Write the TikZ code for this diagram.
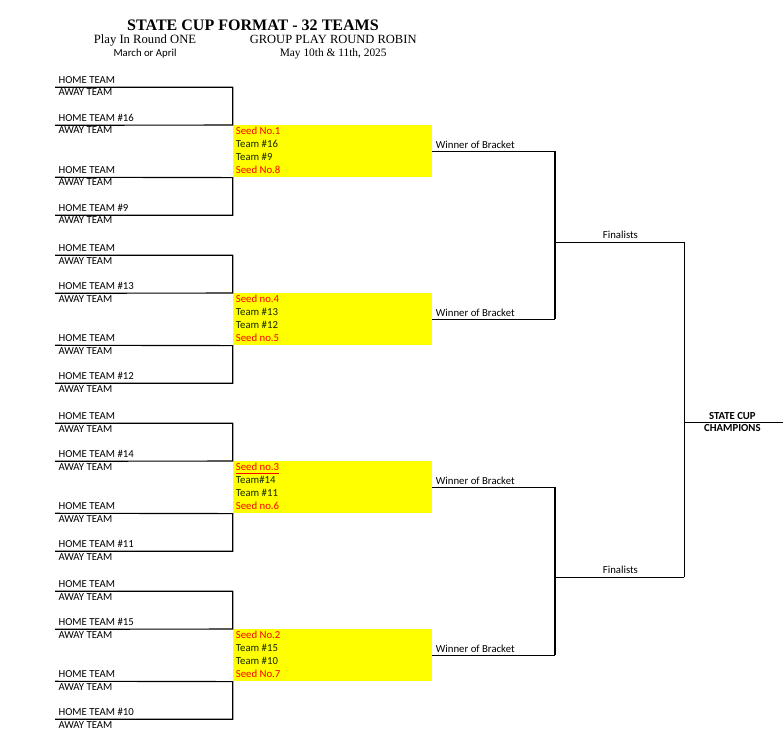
\documentclass[tikz,border=0pt]{standalone}
\usepackage{fontspec}
\setmainfont{Carlito}
\newfontfamily\headfont{Liberation Serif}
\definecolor{seedred}{RGB}{255,0,0}
\definecolor{teamgreen}{RGB}{20,40,0}
\definecolor{seedyellow}{RGB}{255,255,0}

\begin{document}
\begin{tikzpicture}[
		txt/.style={inner sep=0pt, anchor=base west, font=\fontsize{7.65}{9}\selectfont},
		seedtxt/.style={txt, text=seedred},
		teamtxt/.style={txt, text=teamgreen},
		champtxt/.style={inner sep=0pt, anchor=base, font=\bfseries\fontsize{7.65}{9}\selectfont},
		seedbox/.style={fill=seedyellow, draw=none, minimum width=4.975cm, minimum height=1.3cm, inner sep=0pt},
		bracket/.style={line width=0.8pt}]

	\useasboundingbox (0,0) rectangle (19.575,-18.425);

	% ===== nagłówek =====
	\node[font=\headfont\bfseries\fontsize{11.4}{13}\selectfont, anchor=base] (title) at (6.325,-0.775) {STATE CUP FORMAT - 32 TEAMS};
	\node[font=\headfont\fontsize{9}{11}\selectfont, anchor=base] (round) at (3.625,-1.1) {Play In Round ONE};
	\node[font=\fontsize{7.65}{9}\selectfont, anchor=base] (rounddate) at (3.625,-1.417) {March or April};
	\node[font=\headfont\fontsize{8.9}{11}\selectfont, anchor=base] (group) at (8.33,-1.1) {GROUP PLAY ROUND ROBIN};
	\node[font=\headfont\fontsize{8.1}{10}\selectfont, anchor=base] (groupdate) at (8.33,-1.417) {May 10th \& 11th, 2025};

	% ===== grupa A (1 / 8) =====
	\begin{scope}[yshift=-2.1825cm]
		\node[seedbox] (Abox) at (8.3125,-1.6) {};
		\node[txt] (Ah1) at (1.458,0.1) {HOME TEAM};
		\node[txt] (Aa1) at (1.458,-0.2175) {AWAY TEAM};
		\node[txt] (Ah2) at (1.458,-0.85) {HOME TEAM \#16};
		\node[txt] (Aa2) at (1.458,-1.1675) {AWAY TEAM};
		\node[txt] (Ah3) at (1.458,-2.15) {HOME TEAM};
		\node[txt] (Aa3) at (1.458,-2.4675) {AWAY TEAM};
		\node[txt] (Ah4) at (1.458,-3.1) {HOME TEAM \#9};
		\node[txt] (Aa4) at (1.458,-3.4175) {AWAY TEAM};
		\coordinate (A1) at (1.375,0);     \coordinate (A2) at (1.375,-0.95);
		\coordinate (A3) at (1.375,-2.25); \coordinate (A4) at (1.375,-3.2);
		\draw[bracket] (A1) -| (Abox.north west) -- (A2);
		\draw[bracket] (A4) -| (Abox.south west) -- (A3);
		\node[seedtxt] (As1) at (5.89,-1.19) {Seed No.1};
		\node[teamtxt] (At1) at (5.89,-1.515) {Team \#16};
		\node[teamtxt] (At2) at (5.89,-1.84) {Team \#9};
		\node[seedtxt] (As2) at (5.89,-2.165) {Seed No.8};
		\coordinate (Aw) at (13.875,-1.6);
		\draw[bracket] (Abox.east) -- (Aw);
		\node[txt] (Awin) at (10.89,-1.525) {Winner of Bracket};
	\end{scope}

	% ===== grupa B (4 / 5) =====
	\begin{scope}[yshift=-6.3825cm]
		\node[seedbox] (Bbox) at (8.3125,-1.6) {};
		\node[txt] (Bh1) at (1.458,0.1) {HOME TEAM};
		\node[txt] (Ba1) at (1.458,-0.2175) {AWAY TEAM};
		\node[txt] (Bh2) at (1.458,-0.85) {HOME TEAM \#13};
		\node[txt] (Ba2) at (1.458,-1.1675) {AWAY TEAM};
		\node[txt] (Bh3) at (1.458,-2.15) {HOME TEAM};
		\node[txt] (Ba3) at (1.458,-2.4675) {AWAY TEAM};
		\node[txt] (Bh4) at (1.458,-3.1) {HOME TEAM \#12};
		\node[txt] (Ba4) at (1.458,-3.4175) {AWAY TEAM};
		\coordinate (B1) at (1.375,0);     \coordinate (B2) at (1.375,-0.95);
		\coordinate (B3) at (1.375,-2.25); \coordinate (B4) at (1.375,-3.2);
		\draw[bracket] (B1) -| (Bbox.north west) -- (B2);
		\draw[bracket] (B4) -| (Bbox.south west) -- (B3);
		\node[seedtxt] (Bs1) at (5.89,-1.19) {Seed no.4};
		\node[teamtxt] (Bt1) at (5.89,-1.515) {Team \#13};
		\node[teamtxt] (Bt2) at (5.89,-1.84) {Team \#12};
		\node[seedtxt] (Bs2) at (5.89,-2.165) {Seed no.5};
		\coordinate (Bw) at (13.875,-1.6);
		\draw[bracket] (Bbox.east) -- (Bw);
		\node[txt] (Bwin) at (10.89,-1.525) {Winner of Bracket};
	\end{scope}

	% ===== grupa C (3 / 6) =====
	\begin{scope}[yshift=-10.5825cm]
		\node[seedbox] (Cbox) at (8.3125,-1.6) {};
		\node[txt] (Ch1) at (1.458,0.1) {HOME TEAM};
		\node[txt] (Ca1) at (1.458,-0.2175) {AWAY TEAM};
		\node[txt] (Ch2) at (1.458,-0.85) {HOME TEAM \#14};
		\node[txt] (Ca2) at (1.458,-1.1675) {AWAY TEAM};
		\node[txt] (Ch3) at (1.458,-2.15) {HOME TEAM};
		\node[txt] (Ca3) at (1.458,-2.4675) {AWAY TEAM};
		\node[txt] (Ch4) at (1.458,-3.1) {HOME TEAM \#11};
		\node[txt] (Ca4) at (1.458,-3.4175) {AWAY TEAM};
		\coordinate (C1) at (1.375,0);     \coordinate (C2) at (1.375,-0.95);
		\coordinate (C3) at (1.375,-2.25); \coordinate (C4) at (1.375,-3.2);
		\draw[bracket] (C1) -| (Cbox.north west) -- (C2);
		\draw[bracket] (C4) -| (Cbox.south west) -- (C3);
		\node[seedtxt] (Cs1) at (5.89,-1.19) {\underline{Seed no.3}};
		\node[teamtxt] (Ct1) at (5.89,-1.515) {Team\#14};
		\node[teamtxt] (Ct2) at (5.89,-1.84) {Team \#11};
		\node[seedtxt] (Cs2) at (5.89,-2.165) {Seed no.6};
		\coordinate (Cw) at (13.875,-1.6);
		\draw[bracket] (Cbox.east) -- (Cw);
		\node[txt] (Cwin) at (10.89,-1.525) {Winner of Bracket};
	\end{scope}

	% ===== grupa D (2 / 7) =====
	\begin{scope}[yshift=-14.7825cm]
		\node[seedbox] (Dbox) at (8.3125,-1.6) {};
		\node[txt] (Dh1) at (1.458,0.1) {HOME TEAM};
		\node[txt] (Da1) at (1.458,-0.2175) {AWAY TEAM};
		\node[txt] (Dh2) at (1.458,-0.85) {HOME TEAM \#15};
		\node[txt] (Da2) at (1.458,-1.1675) {AWAY TEAM};
		\node[txt] (Dh3) at (1.458,-2.15) {HOME TEAM};
		\node[txt] (Da3) at (1.458,-2.4675) {AWAY TEAM};
		\node[txt] (Dh4) at (1.458,-3.1) {HOME TEAM \#10};
		\node[txt] (Da4) at (1.458,-3.4175) {AWAY TEAM};
		\coordinate (D1) at (1.375,0);     \coordinate (D2) at (1.375,-0.95);
		\coordinate (D3) at (1.375,-2.25); \coordinate (D4) at (1.375,-3.2);
		\draw[bracket] (D1) -| (Dbox.north west) -- (D2);
		\draw[bracket] (D4) -| (Dbox.south west) -- (D3);
		\node[seedtxt] (Ds1) at (5.89,-1.19) {Seed No.2};
		\node[teamtxt] (Dt1) at (5.89,-1.515) {Team \#15};
		\node[teamtxt] (Dt2) at (5.89,-1.84) {Team \#10};
		\node[seedtxt] (Ds2) at (5.89,-2.165) {Seed No.7};
		\coordinate (Dw) at (13.875,-1.6);
		\draw[bracket] (Dbox.east) -- (Dw);
		\node[txt] (Dwin) at (10.89,-1.525) {Winner of Bracket};
	\end{scope}

	% ===== finaliści =====
	\coordinate (ABf) at (13.875,-6.0575);  \coordinate (ABfe) at (17.11,-6.0575);
	\coordinate (CDf) at (13.875,-14.4325); \coordinate (CDfe) at (17.11,-14.4325);
	\draw[bracket] (Aw) -- (Bw);
	\draw[bracket] (Cw) -- (Dw);
	\draw[bracket] (ABf) -- (ABfe);
	\draw[bracket] (CDf) -- (CDfe);
	\node[txt, anchor=base] (finAB) at (15.51,-5.9575) {Finalists};
	\node[txt, anchor=base] (finCD) at (15.51,-14.3325) {Finalists};

	% ===== mistrz =====
	\coordinate (champ) at (17.11,-10.5575); \coordinate (champe) at (19.575,-10.5575);
	\draw[bracket] (ABfe) -- (CDfe);
	\draw[bracket] (champ) -- (champe);
	\node[champtxt] (champ1) at (18.31,-10.475) {STATE CUP};
	\node[champtxt] (champ2) at (18.31,-10.7925) {CHAMPIONS};
\end{tikzpicture}
\end{document}
